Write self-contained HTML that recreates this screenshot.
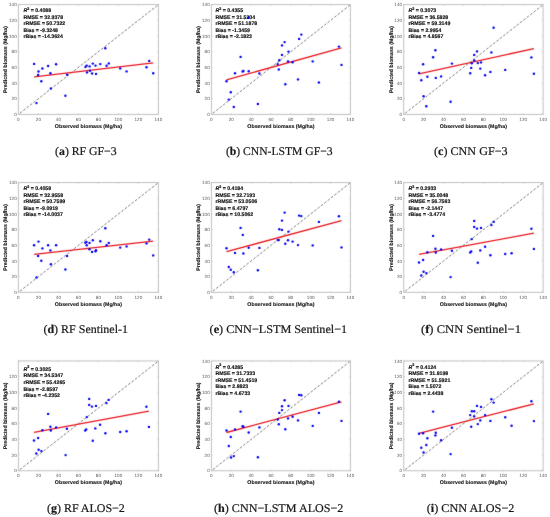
<!DOCTYPE html>
<html><head><meta charset="utf-8"><style>
html,body{margin:0;padding:0;background:#fff;width:550px;height:517px;overflow:hidden}
svg{display:block;will-change:transform;text-rendering:geometricPrecision}
</style></head><body>
<svg width="550" height="517" viewBox="0 0 550 517">
<defs><filter id="bl" x="0" y="0" width="550" height="517" filterUnits="userSpaceOnUse" color-interpolation-filters="sRGB"><feConvolveMatrix order="3" kernelMatrix="1 2 1 2 28 2 1 2 1" edgeMode="duplicate"/></filter></defs>
<defs></defs>
<g filter="url(#bl)">
<rect width="550" height="517" fill="#fff"/>
<line x1="19.9" y1="113.2" x2="157.9" y2="5.1" stroke="#6e6e6e" stroke-width="0.9" stroke-dasharray="2.6,1.7"/>
<rect x="18.4" y="4.6" width="140" height="109.8" fill="none" stroke="#c0c0c0" stroke-width="1"/>
<path d="M18.4 114.4v-1.3M18.4 4.6v1.3M18.4 114.4h1.3M158.4 114.4h-1.3" stroke="#c0c0c0" stroke-width="0.6"/>
<path d="M38.4 114.4v-1.3M38.4 4.6v1.3M18.4 98.71h1.3M158.4 98.71h-1.3" stroke="#c0c0c0" stroke-width="0.6"/>
<path d="M58.4 114.4v-1.3M58.4 4.6v1.3M18.4 83.03h1.3M158.4 83.03h-1.3" stroke="#c0c0c0" stroke-width="0.6"/>
<path d="M78.4 114.4v-1.3M78.4 4.6v1.3M18.4 67.34h1.3M158.4 67.34h-1.3" stroke="#c0c0c0" stroke-width="0.6"/>
<path d="M98.4 114.4v-1.3M98.4 4.6v1.3M18.4 51.66h1.3M158.4 51.66h-1.3" stroke="#c0c0c0" stroke-width="0.6"/>
<path d="M118.4 114.4v-1.3M118.4 4.6v1.3M18.4 35.97h1.3M158.4 35.97h-1.3" stroke="#c0c0c0" stroke-width="0.6"/>
<path d="M138.4 114.4v-1.3M138.4 4.6v1.3M18.4 20.29h1.3M158.4 20.29h-1.3" stroke="#c0c0c0" stroke-width="0.6"/>
<path d="M158.4 114.4v-1.3M158.4 4.6v1.3M18.4 4.6h1.3M158.4 4.6h-1.3" stroke="#c0c0c0" stroke-width="0.6"/>
<line x1="34.1" y1="76.9" x2="153.2" y2="62.9" stroke="#e8161e" stroke-width="1.3"/>
<circle cx="34.1" cy="63.9" r="1.2" fill="#0000f0"/>
<circle cx="38.5" cy="71.5" r="1.2" fill="#0000f0"/>
<circle cx="38.1" cy="74.9" r="1.2" fill="#0000f0"/>
<circle cx="42.4" cy="68.5" r="1.2" fill="#0000f0"/>
<circle cx="36.5" cy="103.1" r="1.2" fill="#0000f0"/>
<circle cx="41.3" cy="81.2" r="1.2" fill="#0000f0"/>
<circle cx="48.1" cy="66" r="1.2" fill="#0000f0"/>
<circle cx="50.4" cy="73.2" r="1.2" fill="#0000f0"/>
<circle cx="50.9" cy="88.5" r="1.2" fill="#0000f0"/>
<circle cx="56.1" cy="64.2" r="1.2" fill="#0000f0"/>
<circle cx="65.4" cy="95.8" r="1.2" fill="#0000f0"/>
<circle cx="67.1" cy="74.7" r="1.2" fill="#0000f0"/>
<circle cx="85.5" cy="66.9" r="1.2" fill="#0000f0"/>
<circle cx="86.7" cy="65.6" r="1.2" fill="#0000f0"/>
<circle cx="89.6" cy="66.4" r="1.2" fill="#0000f0"/>
<circle cx="87" cy="72.4" r="1.2" fill="#0000f0"/>
<circle cx="90" cy="70.7" r="1.2" fill="#0000f0"/>
<circle cx="92.8" cy="63.6" r="1.2" fill="#0000f0"/>
<circle cx="95.5" cy="65.6" r="1.2" fill="#0000f0"/>
<circle cx="92.1" cy="73.5" r="1.2" fill="#0000f0"/>
<circle cx="96" cy="73.9" r="1.2" fill="#0000f0"/>
<circle cx="100.3" cy="64.1" r="1.2" fill="#0000f0"/>
<circle cx="105.3" cy="48.3" r="1.2" fill="#0000f0"/>
<circle cx="106.6" cy="65.7" r="1.2" fill="#0000f0"/>
<circle cx="108.8" cy="63.4" r="1.2" fill="#0000f0"/>
<circle cx="120.2" cy="68.4" r="1.2" fill="#0000f0"/>
<circle cx="126.6" cy="71.4" r="1.2" fill="#0000f0"/>
<circle cx="146.5" cy="67.2" r="1.2" fill="#0000f0"/>
<circle cx="149.2" cy="60.9" r="1.2" fill="#0000f0"/>
<circle cx="153.2" cy="73.2" r="1.2" fill="#0000f0"/>
<line x1="212.9" y1="113.2" x2="349.9" y2="5.1" stroke="#6e6e6e" stroke-width="0.9" stroke-dasharray="2.6,1.7"/>
<rect x="211.4" y="4.6" width="139" height="109.8" fill="none" stroke="#c0c0c0" stroke-width="1"/>
<path d="M211.4 114.4v-1.3M211.4 4.6v1.3M211.4 114.4h1.3M350.4 114.4h-1.3" stroke="#c0c0c0" stroke-width="0.6"/>
<path d="M231.26 114.4v-1.3M231.26 4.6v1.3M211.4 98.71h1.3M350.4 98.71h-1.3" stroke="#c0c0c0" stroke-width="0.6"/>
<path d="M251.11 114.4v-1.3M251.11 4.6v1.3M211.4 83.03h1.3M350.4 83.03h-1.3" stroke="#c0c0c0" stroke-width="0.6"/>
<path d="M270.97 114.4v-1.3M270.97 4.6v1.3M211.4 67.34h1.3M350.4 67.34h-1.3" stroke="#c0c0c0" stroke-width="0.6"/>
<path d="M290.83 114.4v-1.3M290.83 4.6v1.3M211.4 51.66h1.3M350.4 51.66h-1.3" stroke="#c0c0c0" stroke-width="0.6"/>
<path d="M310.69 114.4v-1.3M310.69 4.6v1.3M211.4 35.97h1.3M350.4 35.97h-1.3" stroke="#c0c0c0" stroke-width="0.6"/>
<path d="M330.54 114.4v-1.3M330.54 4.6v1.3M211.4 20.29h1.3M350.4 20.29h-1.3" stroke="#c0c0c0" stroke-width="0.6"/>
<path d="M350.4 114.4v-1.3M350.4 4.6v1.3M211.4 4.6h1.3M350.4 4.6h-1.3" stroke="#c0c0c0" stroke-width="0.6"/>
<line x1="226.5" y1="79.9" x2="341.5" y2="47.9" stroke="#e8161e" stroke-width="1.3"/>
<circle cx="226.5" cy="81.2" r="1.2" fill="#0000f0"/>
<circle cx="230.8" cy="92.3" r="1.2" fill="#0000f0"/>
<circle cx="228.8" cy="99.6" r="1.2" fill="#0000f0"/>
<circle cx="233.8" cy="107" r="1.2" fill="#0000f0"/>
<circle cx="235" cy="73.2" r="1.2" fill="#0000f0"/>
<circle cx="240.6" cy="56.9" r="1.2" fill="#0000f0"/>
<circle cx="242.6" cy="71.5" r="1.2" fill="#0000f0"/>
<circle cx="243.4" cy="71" r="1.2" fill="#0000f0"/>
<circle cx="248.7" cy="71.2" r="1.2" fill="#0000f0"/>
<circle cx="259.4" cy="73.5" r="1.2" fill="#0000f0"/>
<circle cx="257.9" cy="104" r="1.2" fill="#0000f0"/>
<circle cx="277.7" cy="64.1" r="1.2" fill="#0000f0"/>
<circle cx="278.8" cy="69.5" r="1.2" fill="#0000f0"/>
<circle cx="279.3" cy="60.2" r="1.2" fill="#0000f0"/>
<circle cx="282" cy="54.9" r="1.2" fill="#0000f0"/>
<circle cx="282" cy="45.4" r="1.2" fill="#0000f0"/>
<circle cx="284.6" cy="42.1" r="1.2" fill="#0000f0"/>
<circle cx="285.3" cy="84.2" r="1.2" fill="#0000f0"/>
<circle cx="288" cy="61.4" r="1.2" fill="#0000f0"/>
<circle cx="288.5" cy="51.6" r="1.2" fill="#0000f0"/>
<circle cx="292.6" cy="62.2" r="1.2" fill="#0000f0"/>
<circle cx="298" cy="79.4" r="1.2" fill="#0000f0"/>
<circle cx="299.1" cy="38.9" r="1.2" fill="#0000f0"/>
<circle cx="301.3" cy="34.6" r="1.2" fill="#0000f0"/>
<circle cx="312.7" cy="61.4" r="1.2" fill="#0000f0"/>
<circle cx="318.9" cy="82.5" r="1.2" fill="#0000f0"/>
<circle cx="338.9" cy="46.6" r="1.2" fill="#0000f0"/>
<circle cx="341.5" cy="64.9" r="1.2" fill="#0000f0"/>
<line x1="405.2" y1="113.2" x2="542.6" y2="5.1" stroke="#6e6e6e" stroke-width="0.9" stroke-dasharray="2.6,1.7"/>
<rect x="403.7" y="4.6" width="139.4" height="109.8" fill="none" stroke="#c0c0c0" stroke-width="1"/>
<path d="M403.7 114.4v-1.3M403.7 4.6v1.3M403.7 114.4h1.3M543.1 114.4h-1.3" stroke="#c0c0c0" stroke-width="0.6"/>
<path d="M423.61 114.4v-1.3M423.61 4.6v1.3M403.7 98.71h1.3M543.1 98.71h-1.3" stroke="#c0c0c0" stroke-width="0.6"/>
<path d="M443.53 114.4v-1.3M443.53 4.6v1.3M403.7 83.03h1.3M543.1 83.03h-1.3" stroke="#c0c0c0" stroke-width="0.6"/>
<path d="M463.44 114.4v-1.3M463.44 4.6v1.3M403.7 67.34h1.3M543.1 67.34h-1.3" stroke="#c0c0c0" stroke-width="0.6"/>
<path d="M483.36 114.4v-1.3M483.36 4.6v1.3M403.7 51.66h1.3M543.1 51.66h-1.3" stroke="#c0c0c0" stroke-width="0.6"/>
<path d="M503.27 114.4v-1.3M503.27 4.6v1.3M403.7 35.97h1.3M543.1 35.97h-1.3" stroke="#c0c0c0" stroke-width="0.6"/>
<path d="M523.19 114.4v-1.3M523.19 4.6v1.3M403.7 20.29h1.3M543.1 20.29h-1.3" stroke="#c0c0c0" stroke-width="0.6"/>
<path d="M543.1 114.4v-1.3M543.1 4.6v1.3M403.7 4.6h1.3M543.1 4.6h-1.3" stroke="#c0c0c0" stroke-width="0.6"/>
<line x1="419" y1="73.9" x2="533.9" y2="48.6" stroke="#e8161e" stroke-width="1.3"/>
<circle cx="419" cy="72.9" r="1.2" fill="#0000f0"/>
<circle cx="421.3" cy="80.2" r="1.2" fill="#0000f0"/>
<circle cx="423.1" cy="64.2" r="1.2" fill="#0000f0"/>
<circle cx="423.6" cy="96.3" r="1.2" fill="#0000f0"/>
<circle cx="426.3" cy="106.3" r="1.2" fill="#0000f0"/>
<circle cx="427.4" cy="76.7" r="1.2" fill="#0000f0"/>
<circle cx="433.1" cy="57.2" r="1.2" fill="#0000f0"/>
<circle cx="435.4" cy="50.3" r="1.2" fill="#0000f0"/>
<circle cx="435.8" cy="77.9" r="1.2" fill="#0000f0"/>
<circle cx="441.1" cy="76.4" r="1.2" fill="#0000f0"/>
<circle cx="450.6" cy="101.8" r="1.2" fill="#0000f0"/>
<circle cx="451.9" cy="63.6" r="1.2" fill="#0000f0"/>
<circle cx="470.2" cy="73.2" r="1.2" fill="#0000f0"/>
<circle cx="471.2" cy="67.9" r="1.2" fill="#0000f0"/>
<circle cx="471.8" cy="63.2" r="1.2" fill="#0000f0"/>
<circle cx="474.2" cy="54.9" r="1.2" fill="#0000f0"/>
<circle cx="474.2" cy="60.4" r="1.2" fill="#0000f0"/>
<circle cx="477" cy="51.4" r="1.2" fill="#0000f0"/>
<circle cx="477.8" cy="63.1" r="1.2" fill="#0000f0"/>
<circle cx="480.3" cy="68.6" r="1.2" fill="#0000f0"/>
<circle cx="481" cy="62.4" r="1.2" fill="#0000f0"/>
<circle cx="485.1" cy="75.2" r="1.2" fill="#0000f0"/>
<circle cx="490.4" cy="71.9" r="1.2" fill="#0000f0"/>
<circle cx="491.4" cy="52.4" r="1.2" fill="#0000f0"/>
<circle cx="505.2" cy="69.9" r="1.2" fill="#0000f0"/>
<circle cx="531.4" cy="57.4" r="1.2" fill="#0000f0"/>
<circle cx="533.9" cy="73.7" r="1.2" fill="#0000f0"/>
<circle cx="493.6" cy="27.8" r="1.2" fill="#0000f0"/>
<line x1="19.9" y1="291.15" x2="157.9" y2="183.05" stroke="#6e6e6e" stroke-width="0.9" stroke-dasharray="2.6,1.7"/>
<rect x="18.4" y="182.55" width="140" height="109.8" fill="none" stroke="#c0c0c0" stroke-width="1"/>
<path d="M18.4 292.35v-1.3M18.4 182.55v1.3M18.4 292.35h1.3M158.4 292.35h-1.3" stroke="#c0c0c0" stroke-width="0.6"/>
<path d="M38.4 292.35v-1.3M38.4 182.55v1.3M18.4 276.66h1.3M158.4 276.66h-1.3" stroke="#c0c0c0" stroke-width="0.6"/>
<path d="M58.4 292.35v-1.3M58.4 182.55v1.3M18.4 260.98h1.3M158.4 260.98h-1.3" stroke="#c0c0c0" stroke-width="0.6"/>
<path d="M78.4 292.35v-1.3M78.4 182.55v1.3M18.4 245.29h1.3M158.4 245.29h-1.3" stroke="#c0c0c0" stroke-width="0.6"/>
<path d="M98.4 292.35v-1.3M98.4 182.55v1.3M18.4 229.61h1.3M158.4 229.61h-1.3" stroke="#c0c0c0" stroke-width="0.6"/>
<path d="M118.4 292.35v-1.3M118.4 182.55v1.3M18.4 213.92h1.3M158.4 213.92h-1.3" stroke="#c0c0c0" stroke-width="0.6"/>
<path d="M138.4 292.35v-1.3M138.4 182.55v1.3M18.4 198.24h1.3M158.4 198.24h-1.3" stroke="#c0c0c0" stroke-width="0.6"/>
<path d="M158.4 292.35v-1.3M158.4 182.55v1.3M18.4 182.55h1.3M158.4 182.55h-1.3" stroke="#c0c0c0" stroke-width="0.6"/>
<line x1="34.1" y1="254.4" x2="153.2" y2="241.1" stroke="#e8161e" stroke-width="1.3"/>
<circle cx="34.1" cy="245.2" r="1.2" fill="#0000f0"/>
<circle cx="38.5" cy="241.6" r="1.2" fill="#0000f0"/>
<circle cx="38.1" cy="256" r="1.2" fill="#0000f0"/>
<circle cx="42.4" cy="248.4" r="1.2" fill="#0000f0"/>
<circle cx="36.5" cy="277.5" r="1.2" fill="#0000f0"/>
<circle cx="41.3" cy="260.8" r="1.2" fill="#0000f0"/>
<circle cx="48.1" cy="245.2" r="1.2" fill="#0000f0"/>
<circle cx="50.4" cy="250.4" r="1.2" fill="#0000f0"/>
<circle cx="50.9" cy="264.2" r="1.2" fill="#0000f0"/>
<circle cx="56.1" cy="245.2" r="1.2" fill="#0000f0"/>
<circle cx="65.4" cy="269.5" r="1.2" fill="#0000f0"/>
<circle cx="67.1" cy="256" r="1.2" fill="#0000f0"/>
<circle cx="85.3" cy="242.7" r="1.2" fill="#0000f0"/>
<circle cx="86.5" cy="241.9" r="1.2" fill="#0000f0"/>
<circle cx="86.7" cy="245.2" r="1.2" fill="#0000f0"/>
<circle cx="89.5" cy="242.9" r="1.2" fill="#0000f0"/>
<circle cx="89.5" cy="249.2" r="1.2" fill="#0000f0"/>
<circle cx="92.1" cy="251.9" r="1.2" fill="#0000f0"/>
<circle cx="92.8" cy="240.2" r="1.2" fill="#0000f0"/>
<circle cx="95.5" cy="251.2" r="1.2" fill="#0000f0"/>
<circle cx="96" cy="250.2" r="1.2" fill="#0000f0"/>
<circle cx="100.3" cy="241.2" r="1.2" fill="#0000f0"/>
<circle cx="105.3" cy="228.3" r="1.2" fill="#0000f0"/>
<circle cx="106.6" cy="245.2" r="1.2" fill="#0000f0"/>
<circle cx="108.8" cy="242.9" r="1.2" fill="#0000f0"/>
<circle cx="120.2" cy="247.6" r="1.2" fill="#0000f0"/>
<circle cx="126.6" cy="246.4" r="1.2" fill="#0000f0"/>
<circle cx="146.5" cy="243.4" r="1.2" fill="#0000f0"/>
<circle cx="149.2" cy="239.6" r="1.2" fill="#0000f0"/>
<circle cx="153.2" cy="255.4" r="1.2" fill="#0000f0"/>
<line x1="212.9" y1="291.15" x2="349.9" y2="183.05" stroke="#6e6e6e" stroke-width="0.9" stroke-dasharray="2.6,1.7"/>
<rect x="211.4" y="182.55" width="139" height="109.8" fill="none" stroke="#c0c0c0" stroke-width="1"/>
<path d="M211.4 292.35v-1.3M211.4 182.55v1.3M211.4 292.35h1.3M350.4 292.35h-1.3" stroke="#c0c0c0" stroke-width="0.6"/>
<path d="M231.26 292.35v-1.3M231.26 182.55v1.3M211.4 276.66h1.3M350.4 276.66h-1.3" stroke="#c0c0c0" stroke-width="0.6"/>
<path d="M251.11 292.35v-1.3M251.11 182.55v1.3M211.4 260.98h1.3M350.4 260.98h-1.3" stroke="#c0c0c0" stroke-width="0.6"/>
<path d="M270.97 292.35v-1.3M270.97 182.55v1.3M211.4 245.29h1.3M350.4 245.29h-1.3" stroke="#c0c0c0" stroke-width="0.6"/>
<path d="M290.83 292.35v-1.3M290.83 182.55v1.3M211.4 229.61h1.3M350.4 229.61h-1.3" stroke="#c0c0c0" stroke-width="0.6"/>
<path d="M310.69 292.35v-1.3M310.69 182.55v1.3M211.4 213.92h1.3M350.4 213.92h-1.3" stroke="#c0c0c0" stroke-width="0.6"/>
<path d="M330.54 292.35v-1.3M330.54 182.55v1.3M211.4 198.24h1.3M350.4 198.24h-1.3" stroke="#c0c0c0" stroke-width="0.6"/>
<path d="M350.4 292.35v-1.3M350.4 182.55v1.3M211.4 182.55h1.3M350.4 182.55h-1.3" stroke="#c0c0c0" stroke-width="0.6"/>
<line x1="226.5" y1="251.7" x2="341.5" y2="220.6" stroke="#e8161e" stroke-width="1.3"/>
<circle cx="226.5" cy="248.2" r="1.2" fill="#0000f0"/>
<circle cx="228.8" cy="267" r="1.2" fill="#0000f0"/>
<circle cx="230.8" cy="269.7" r="1.2" fill="#0000f0"/>
<circle cx="233.8" cy="272.3" r="1.2" fill="#0000f0"/>
<circle cx="235" cy="252.9" r="1.2" fill="#0000f0"/>
<circle cx="240.6" cy="227.9" r="1.2" fill="#0000f0"/>
<circle cx="242.8" cy="234.9" r="1.2" fill="#0000f0"/>
<circle cx="243.4" cy="253.5" r="1.2" fill="#0000f0"/>
<circle cx="248.7" cy="247.7" r="1.2" fill="#0000f0"/>
<circle cx="259.4" cy="247.9" r="1.2" fill="#0000f0"/>
<circle cx="257.9" cy="270.3" r="1.2" fill="#0000f0"/>
<circle cx="277.7" cy="240.1" r="1.2" fill="#0000f0"/>
<circle cx="278.8" cy="240.1" r="1.2" fill="#0000f0"/>
<circle cx="279.3" cy="229.3" r="1.2" fill="#0000f0"/>
<circle cx="282" cy="229.9" r="1.2" fill="#0000f0"/>
<circle cx="282" cy="220.6" r="1.2" fill="#0000f0"/>
<circle cx="284.6" cy="212.6" r="1.2" fill="#0000f0"/>
<circle cx="285.3" cy="243.7" r="1.2" fill="#0000f0"/>
<circle cx="288" cy="240.2" r="1.2" fill="#0000f0"/>
<circle cx="288.5" cy="231.6" r="1.2" fill="#0000f0"/>
<circle cx="292.6" cy="241.6" r="1.2" fill="#0000f0"/>
<circle cx="298" cy="245.1" r="1.2" fill="#0000f0"/>
<circle cx="299.1" cy="215.6" r="1.2" fill="#0000f0"/>
<circle cx="301.3" cy="216.1" r="1.2" fill="#0000f0"/>
<circle cx="312.7" cy="245.4" r="1.2" fill="#0000f0"/>
<circle cx="318.9" cy="221.9" r="1.2" fill="#0000f0"/>
<circle cx="338.9" cy="216.3" r="1.2" fill="#0000f0"/>
<circle cx="341.5" cy="247.4" r="1.2" fill="#0000f0"/>
<line x1="405.2" y1="291.15" x2="542.6" y2="183.05" stroke="#6e6e6e" stroke-width="0.9" stroke-dasharray="2.6,1.7"/>
<rect x="403.7" y="182.55" width="139.4" height="109.8" fill="none" stroke="#c0c0c0" stroke-width="1"/>
<path d="M403.7 292.35v-1.3M403.7 182.55v1.3M403.7 292.35h1.3M543.1 292.35h-1.3" stroke="#c0c0c0" stroke-width="0.6"/>
<path d="M423.61 292.35v-1.3M423.61 182.55v1.3M403.7 276.66h1.3M543.1 276.66h-1.3" stroke="#c0c0c0" stroke-width="0.6"/>
<path d="M443.53 292.35v-1.3M443.53 182.55v1.3M403.7 260.98h1.3M543.1 260.98h-1.3" stroke="#c0c0c0" stroke-width="0.6"/>
<path d="M463.44 292.35v-1.3M463.44 182.55v1.3M403.7 245.29h1.3M543.1 245.29h-1.3" stroke="#c0c0c0" stroke-width="0.6"/>
<path d="M483.36 292.35v-1.3M483.36 182.55v1.3M403.7 229.61h1.3M543.1 229.61h-1.3" stroke="#c0c0c0" stroke-width="0.6"/>
<path d="M503.27 292.35v-1.3M503.27 182.55v1.3M403.7 213.92h1.3M543.1 213.92h-1.3" stroke="#c0c0c0" stroke-width="0.6"/>
<path d="M523.19 292.35v-1.3M523.19 182.55v1.3M403.7 198.24h1.3M543.1 198.24h-1.3" stroke="#c0c0c0" stroke-width="0.6"/>
<path d="M543.1 292.35v-1.3M543.1 182.55v1.3M403.7 182.55h1.3M543.1 182.55h-1.3" stroke="#c0c0c0" stroke-width="0.6"/>
<line x1="419" y1="254.4" x2="533.9" y2="233.2" stroke="#e8161e" stroke-width="1.3"/>
<circle cx="419" cy="262.5" r="1.2" fill="#0000f0"/>
<circle cx="421.3" cy="275.5" r="1.2" fill="#0000f0"/>
<circle cx="423.1" cy="260" r="1.2" fill="#0000f0"/>
<circle cx="423.6" cy="271.7" r="1.2" fill="#0000f0"/>
<circle cx="426.4" cy="273.1" r="1.2" fill="#0000f0"/>
<circle cx="427.4" cy="252.2" r="1.2" fill="#0000f0"/>
<circle cx="433.1" cy="235.9" r="1.2" fill="#0000f0"/>
<circle cx="435.4" cy="248.7" r="1.2" fill="#0000f0"/>
<circle cx="435.8" cy="252.5" r="1.2" fill="#0000f0"/>
<circle cx="441.1" cy="249.4" r="1.2" fill="#0000f0"/>
<circle cx="450.6" cy="277.1" r="1.2" fill="#0000f0"/>
<circle cx="451.9" cy="250.7" r="1.2" fill="#0000f0"/>
<circle cx="470.2" cy="252.5" r="1.2" fill="#0000f0"/>
<circle cx="471.2" cy="251.4" r="1.2" fill="#0000f0"/>
<circle cx="471.8" cy="239.1" r="1.2" fill="#0000f0"/>
<circle cx="474.2" cy="220.9" r="1.2" fill="#0000f0"/>
<circle cx="474.2" cy="226.9" r="1.2" fill="#0000f0"/>
<circle cx="477" cy="228.6" r="1.2" fill="#0000f0"/>
<circle cx="477.8" cy="262.7" r="1.2" fill="#0000f0"/>
<circle cx="480.3" cy="250.4" r="1.2" fill="#0000f0"/>
<circle cx="481" cy="227.9" r="1.2" fill="#0000f0"/>
<circle cx="485.1" cy="246.7" r="1.2" fill="#0000f0"/>
<circle cx="490.4" cy="255.2" r="1.2" fill="#0000f0"/>
<circle cx="491.4" cy="225.1" r="1.2" fill="#0000f0"/>
<circle cx="493.6" cy="221.9" r="1.2" fill="#0000f0"/>
<circle cx="505.2" cy="254" r="1.2" fill="#0000f0"/>
<circle cx="511.6" cy="253.2" r="1.2" fill="#0000f0"/>
<circle cx="531.4" cy="228.8" r="1.2" fill="#0000f0"/>
<circle cx="533.9" cy="248.9" r="1.2" fill="#0000f0"/>
<line x1="19.9" y1="469.55" x2="157.9" y2="361.45" stroke="#6e6e6e" stroke-width="0.9" stroke-dasharray="2.6,1.7"/>
<rect x="18.4" y="360.95" width="140" height="109.8" fill="none" stroke="#c0c0c0" stroke-width="1"/>
<path d="M18.4 470.75v-1.3M18.4 360.95v1.3M18.4 470.75h1.3M158.4 470.75h-1.3" stroke="#c0c0c0" stroke-width="0.6"/>
<path d="M38.4 470.75v-1.3M38.4 360.95v1.3M18.4 455.06h1.3M158.4 455.06h-1.3" stroke="#c0c0c0" stroke-width="0.6"/>
<path d="M58.4 470.75v-1.3M58.4 360.95v1.3M18.4 439.38h1.3M158.4 439.38h-1.3" stroke="#c0c0c0" stroke-width="0.6"/>
<path d="M78.4 470.75v-1.3M78.4 360.95v1.3M18.4 423.69h1.3M158.4 423.69h-1.3" stroke="#c0c0c0" stroke-width="0.6"/>
<path d="M98.4 470.75v-1.3M98.4 360.95v1.3M18.4 408.01h1.3M158.4 408.01h-1.3" stroke="#c0c0c0" stroke-width="0.6"/>
<path d="M118.4 470.75v-1.3M118.4 360.95v1.3M18.4 392.32h1.3M158.4 392.32h-1.3" stroke="#c0c0c0" stroke-width="0.6"/>
<path d="M138.4 470.75v-1.3M138.4 360.95v1.3M18.4 376.64h1.3M158.4 376.64h-1.3" stroke="#c0c0c0" stroke-width="0.6"/>
<path d="M158.4 470.75v-1.3M158.4 360.95v1.3M18.4 360.95h1.3M158.4 360.95h-1.3" stroke="#c0c0c0" stroke-width="0.6"/>
<line x1="34" y1="432.4" x2="148.9" y2="411.2" stroke="#e8161e" stroke-width="1.3"/>
<circle cx="34" cy="440.5" r="1.2" fill="#0000f0"/>
<circle cx="36.3" cy="453.5" r="1.2" fill="#0000f0"/>
<circle cx="38.1" cy="438" r="1.2" fill="#0000f0"/>
<circle cx="38.6" cy="449.7" r="1.2" fill="#0000f0"/>
<circle cx="41.4" cy="451.1" r="1.2" fill="#0000f0"/>
<circle cx="42.4" cy="430.2" r="1.2" fill="#0000f0"/>
<circle cx="48.1" cy="413.9" r="1.2" fill="#0000f0"/>
<circle cx="50.4" cy="426.7" r="1.2" fill="#0000f0"/>
<circle cx="50.8" cy="430.5" r="1.2" fill="#0000f0"/>
<circle cx="56.1" cy="427.4" r="1.2" fill="#0000f0"/>
<circle cx="65.6" cy="455.1" r="1.2" fill="#0000f0"/>
<circle cx="66.9" cy="428.7" r="1.2" fill="#0000f0"/>
<circle cx="85.2" cy="430.5" r="1.2" fill="#0000f0"/>
<circle cx="86.2" cy="429.4" r="1.2" fill="#0000f0"/>
<circle cx="86.8" cy="417.1" r="1.2" fill="#0000f0"/>
<circle cx="89.2" cy="398.9" r="1.2" fill="#0000f0"/>
<circle cx="89.2" cy="404.9" r="1.2" fill="#0000f0"/>
<circle cx="92" cy="406.6" r="1.2" fill="#0000f0"/>
<circle cx="92.8" cy="440.7" r="1.2" fill="#0000f0"/>
<circle cx="95.3" cy="428.4" r="1.2" fill="#0000f0"/>
<circle cx="96" cy="405.9" r="1.2" fill="#0000f0"/>
<circle cx="100.1" cy="424.7" r="1.2" fill="#0000f0"/>
<circle cx="105.4" cy="433.2" r="1.2" fill="#0000f0"/>
<circle cx="106.4" cy="403.1" r="1.2" fill="#0000f0"/>
<circle cx="108.6" cy="399.9" r="1.2" fill="#0000f0"/>
<circle cx="120.2" cy="432" r="1.2" fill="#0000f0"/>
<circle cx="126.6" cy="431.2" r="1.2" fill="#0000f0"/>
<circle cx="146.4" cy="406.8" r="1.2" fill="#0000f0"/>
<circle cx="148.9" cy="426.9" r="1.2" fill="#0000f0"/>
<line x1="212.9" y1="469.55" x2="349.9" y2="361.45" stroke="#6e6e6e" stroke-width="0.9" stroke-dasharray="2.6,1.7"/>
<rect x="211.4" y="360.95" width="139" height="109.8" fill="none" stroke="#c0c0c0" stroke-width="1"/>
<path d="M211.4 470.75v-1.3M211.4 360.95v1.3M211.4 470.75h1.3M350.4 470.75h-1.3" stroke="#c0c0c0" stroke-width="0.6"/>
<path d="M231.26 470.75v-1.3M231.26 360.95v1.3M211.4 455.06h1.3M350.4 455.06h-1.3" stroke="#c0c0c0" stroke-width="0.6"/>
<path d="M251.11 470.75v-1.3M251.11 360.95v1.3M211.4 439.38h1.3M350.4 439.38h-1.3" stroke="#c0c0c0" stroke-width="0.6"/>
<path d="M270.97 470.75v-1.3M270.97 360.95v1.3M211.4 423.69h1.3M350.4 423.69h-1.3" stroke="#c0c0c0" stroke-width="0.6"/>
<path d="M290.83 470.75v-1.3M290.83 360.95v1.3M211.4 408.01h1.3M350.4 408.01h-1.3" stroke="#c0c0c0" stroke-width="0.6"/>
<path d="M310.69 470.75v-1.3M310.69 360.95v1.3M211.4 392.32h1.3M350.4 392.32h-1.3" stroke="#c0c0c0" stroke-width="0.6"/>
<path d="M330.54 470.75v-1.3M330.54 360.95v1.3M211.4 376.64h1.3M350.4 376.64h-1.3" stroke="#c0c0c0" stroke-width="0.6"/>
<path d="M350.4 470.75v-1.3M350.4 360.95v1.3M211.4 360.95h1.3M350.4 360.95h-1.3" stroke="#c0c0c0" stroke-width="0.6"/>
<line x1="226.5" y1="432.5" x2="341.5" y2="401.8" stroke="#e8161e" stroke-width="1.3"/>
<circle cx="226.5" cy="430.5" r="1.2" fill="#0000f0"/>
<circle cx="230.8" cy="437" r="1.2" fill="#0000f0"/>
<circle cx="228.8" cy="446" r="1.2" fill="#0000f0"/>
<circle cx="231" cy="457.5" r="1.2" fill="#0000f0"/>
<circle cx="233.8" cy="456.1" r="1.2" fill="#0000f0"/>
<circle cx="235" cy="429.5" r="1.2" fill="#0000f0"/>
<circle cx="240.6" cy="411.6" r="1.2" fill="#0000f0"/>
<circle cx="242.6" cy="426.2" r="1.2" fill="#0000f0"/>
<circle cx="243.4" cy="426.7" r="1.2" fill="#0000f0"/>
<circle cx="248.7" cy="432.5" r="1.2" fill="#0000f0"/>
<circle cx="259.4" cy="427.4" r="1.2" fill="#0000f0"/>
<circle cx="257.9" cy="457.3" r="1.2" fill="#0000f0"/>
<circle cx="277.7" cy="419.6" r="1.2" fill="#0000f0"/>
<circle cx="278.8" cy="424.2" r="1.2" fill="#0000f0"/>
<circle cx="279.3" cy="412.9" r="1.2" fill="#0000f0"/>
<circle cx="282" cy="410.1" r="1.2" fill="#0000f0"/>
<circle cx="282" cy="406.3" r="1.2" fill="#0000f0"/>
<circle cx="284.6" cy="400.3" r="1.2" fill="#0000f0"/>
<circle cx="285.3" cy="429.2" r="1.2" fill="#0000f0"/>
<circle cx="288" cy="418.4" r="1.2" fill="#0000f0"/>
<circle cx="288.5" cy="405.9" r="1.2" fill="#0000f0"/>
<circle cx="292.6" cy="416.7" r="1.2" fill="#0000f0"/>
<circle cx="298" cy="420.4" r="1.2" fill="#0000f0"/>
<circle cx="299.1" cy="394.9" r="1.2" fill="#0000f0"/>
<circle cx="301.3" cy="395.3" r="1.2" fill="#0000f0"/>
<circle cx="312.7" cy="425.9" r="1.2" fill="#0000f0"/>
<circle cx="318.9" cy="412.9" r="1.2" fill="#0000f0"/>
<circle cx="338.9" cy="401.8" r="1.2" fill="#0000f0"/>
<circle cx="341.5" cy="420.9" r="1.2" fill="#0000f0"/>
<line x1="405.2" y1="469.55" x2="542.6" y2="361.45" stroke="#6e6e6e" stroke-width="0.9" stroke-dasharray="2.6,1.7"/>
<rect x="403.7" y="360.95" width="139.4" height="109.8" fill="none" stroke="#c0c0c0" stroke-width="1"/>
<path d="M403.7 470.75v-1.3M403.7 360.95v1.3M403.7 470.75h1.3M543.1 470.75h-1.3" stroke="#c0c0c0" stroke-width="0.6"/>
<path d="M423.61 470.75v-1.3M423.61 360.95v1.3M403.7 455.06h1.3M543.1 455.06h-1.3" stroke="#c0c0c0" stroke-width="0.6"/>
<path d="M443.53 470.75v-1.3M443.53 360.95v1.3M403.7 439.38h1.3M543.1 439.38h-1.3" stroke="#c0c0c0" stroke-width="0.6"/>
<path d="M463.44 470.75v-1.3M463.44 360.95v1.3M403.7 423.69h1.3M543.1 423.69h-1.3" stroke="#c0c0c0" stroke-width="0.6"/>
<path d="M483.36 470.75v-1.3M483.36 360.95v1.3M403.7 408.01h1.3M543.1 408.01h-1.3" stroke="#c0c0c0" stroke-width="0.6"/>
<path d="M503.27 470.75v-1.3M503.27 360.95v1.3M403.7 392.32h1.3M543.1 392.32h-1.3" stroke="#c0c0c0" stroke-width="0.6"/>
<path d="M523.19 470.75v-1.3M523.19 360.95v1.3M403.7 376.64h1.3M543.1 376.64h-1.3" stroke="#c0c0c0" stroke-width="0.6"/>
<path d="M543.1 470.75v-1.3M543.1 360.95v1.3M403.7 360.95h1.3M543.1 360.95h-1.3" stroke="#c0c0c0" stroke-width="0.6"/>
<line x1="419" y1="433.4" x2="533.9" y2="403.8" stroke="#e8161e" stroke-width="1.3"/>
<circle cx="419" cy="433.7" r="1.2" fill="#0000f0"/>
<circle cx="421.3" cy="447.7" r="1.2" fill="#0000f0"/>
<circle cx="423.1" cy="433.2" r="1.2" fill="#0000f0"/>
<circle cx="423.6" cy="452.5" r="1.2" fill="#0000f0"/>
<circle cx="426.3" cy="445" r="1.2" fill="#0000f0"/>
<circle cx="427.4" cy="438.3" r="1.2" fill="#0000f0"/>
<circle cx="433.1" cy="411.6" r="1.2" fill="#0000f0"/>
<circle cx="435.4" cy="435.4" r="1.2" fill="#0000f0"/>
<circle cx="435.8" cy="432.7" r="1.2" fill="#0000f0"/>
<circle cx="441.1" cy="440.3" r="1.2" fill="#0000f0"/>
<circle cx="450.6" cy="454.1" r="1.2" fill="#0000f0"/>
<circle cx="451.9" cy="427.7" r="1.2" fill="#0000f0"/>
<circle cx="470.2" cy="415.1" r="1.2" fill="#0000f0"/>
<circle cx="471.2" cy="426.7" r="1.2" fill="#0000f0"/>
<circle cx="471.8" cy="411.2" r="1.2" fill="#0000f0"/>
<circle cx="474.2" cy="411.2" r="1.2" fill="#0000f0"/>
<circle cx="474.2" cy="416.4" r="1.2" fill="#0000f0"/>
<circle cx="477" cy="405.9" r="1.2" fill="#0000f0"/>
<circle cx="477.8" cy="424.1" r="1.2" fill="#0000f0"/>
<circle cx="480.3" cy="420.4" r="1.2" fill="#0000f0"/>
<circle cx="481" cy="406.9" r="1.2" fill="#0000f0"/>
<circle cx="485.1" cy="415.1" r="1.2" fill="#0000f0"/>
<circle cx="490.4" cy="420.9" r="1.2" fill="#0000f0"/>
<circle cx="491.4" cy="399.3" r="1.2" fill="#0000f0"/>
<circle cx="493.6" cy="402.6" r="1.2" fill="#0000f0"/>
<circle cx="505.2" cy="417.2" r="1.2" fill="#0000f0"/>
<circle cx="511.6" cy="425.7" r="1.2" fill="#0000f0"/>
<circle cx="531.4" cy="401.3" r="1.2" fill="#0000f0"/>
<circle cx="533.9" cy="421.1" r="1.2" fill="#0000f0"/>
</g>
<g><text transform="translate(18.4,120.65) translate(-1.28,0) scale(0.1,0.1)" font-family="Liberation Sans" font-weight="normal" font-size="46" fill="#606060" textLength="25.58" lengthAdjust="spacingAndGlyphs">0</text>
<text transform="translate(16.7,116) translate(-2.56,0) scale(0.1,0.1)" font-family="Liberation Sans" font-weight="normal" font-size="46" fill="#606060" textLength="25.58" lengthAdjust="spacingAndGlyphs">0</text>
<text transform="translate(38.4,120.65) translate(-2.56,0) scale(0.1,0.1)" font-family="Liberation Sans" font-weight="normal" font-size="46" fill="#606060" textLength="51.17" lengthAdjust="spacingAndGlyphs">20</text>
<text transform="translate(16.7,100.31) translate(-5.12,0) scale(0.1,0.1)" font-family="Liberation Sans" font-weight="normal" font-size="46" fill="#606060" textLength="51.17" lengthAdjust="spacingAndGlyphs">20</text>
<text transform="translate(58.4,120.65) translate(-2.56,0) scale(0.1,0.1)" font-family="Liberation Sans" font-weight="normal" font-size="46" fill="#606060" textLength="51.17" lengthAdjust="spacingAndGlyphs">40</text>
<text transform="translate(16.7,84.63) translate(-5.12,0) scale(0.1,0.1)" font-family="Liberation Sans" font-weight="normal" font-size="46" fill="#606060" textLength="51.17" lengthAdjust="spacingAndGlyphs">40</text>
<text transform="translate(78.4,120.65) translate(-2.56,0) scale(0.1,0.1)" font-family="Liberation Sans" font-weight="normal" font-size="46" fill="#606060" textLength="51.17" lengthAdjust="spacingAndGlyphs">60</text>
<text transform="translate(16.7,68.94) translate(-5.12,0) scale(0.1,0.1)" font-family="Liberation Sans" font-weight="normal" font-size="46" fill="#606060" textLength="51.17" lengthAdjust="spacingAndGlyphs">60</text>
<text transform="translate(98.4,120.65) translate(-2.56,0) scale(0.1,0.1)" font-family="Liberation Sans" font-weight="normal" font-size="46" fill="#606060" textLength="51.17" lengthAdjust="spacingAndGlyphs">80</text>
<text transform="translate(16.7,53.26) translate(-5.12,0) scale(0.1,0.1)" font-family="Liberation Sans" font-weight="normal" font-size="46" fill="#606060" textLength="51.17" lengthAdjust="spacingAndGlyphs">80</text>
<text transform="translate(118.4,120.65) translate(-3.84,0) scale(0.1,0.1)" font-family="Liberation Sans" font-weight="normal" font-size="46" fill="#606060" textLength="76.75" lengthAdjust="spacingAndGlyphs">100</text>
<text transform="translate(16.7,37.57) translate(-7.67,0) scale(0.1,0.1)" font-family="Liberation Sans" font-weight="normal" font-size="46" fill="#606060" textLength="76.75" lengthAdjust="spacingAndGlyphs">100</text>
<text transform="translate(138.4,120.65) translate(-3.84,0) scale(0.1,0.1)" font-family="Liberation Sans" font-weight="normal" font-size="46" fill="#606060" textLength="76.75" lengthAdjust="spacingAndGlyphs">120</text>
<text transform="translate(16.7,21.89) translate(-7.67,0) scale(0.1,0.1)" font-family="Liberation Sans" font-weight="normal" font-size="46" fill="#606060" textLength="76.75" lengthAdjust="spacingAndGlyphs">120</text>
<text transform="translate(158.4,120.65) translate(-3.84,0) scale(0.1,0.1)" font-family="Liberation Sans" font-weight="normal" font-size="46" fill="#606060" textLength="76.75" lengthAdjust="spacingAndGlyphs">140</text>
<text transform="translate(16.7,6.2) translate(-7.67,0) scale(0.1,0.1)" font-family="Liberation Sans" font-weight="normal" font-size="46" fill="#606060" textLength="76.75" lengthAdjust="spacingAndGlyphs">140</text>
<text transform="translate(88.4,127.8) translate(-33.55,0) scale(0.1,0.1)" font-family="Liberation Sans" font-weight="bold" font-size="52.5" fill="#1a1a1a" stroke="#1a1a1a" stroke-width="1.2" textLength="670.99" lengthAdjust="spacingAndGlyphs">Observed biomass (Mg/ha)</text>
<text transform="translate(7.3,59.5) rotate(-90) translate(-33.4,0) scale(0.1,0.1)" font-family="Liberation Sans" font-weight="bold" font-size="52.5" fill="#1a1a1a" stroke="#1a1a1a" stroke-width="1.2" textLength="668.04" lengthAdjust="spacingAndGlyphs">Predicted biomass (Mg/ha)</text>
<text transform="translate(23.4,12.4) scale(0.1,0.1)" font-family="Liberation Sans" font-weight="bold" font-style="italic" font-size="52" fill="#111" stroke="#111" stroke-width="1.6" textLength="276.68" lengthAdjust="spacingAndGlyphs">R<tspan font-style="normal" font-size="37.44" dy="-25">2</tspan><tspan font-style="normal" dy="25"> = 0.4088</tspan></text>
<text transform="translate(23.4,18.92) scale(0.1,0.1)" font-family="Liberation Sans" font-weight="bold" font-size="52" fill="#111" stroke="#111" stroke-width="1.6" textLength="397.46" lengthAdjust="spacingAndGlyphs">RMSE = 32.9378</text>
<text transform="translate(23.4,25.44) scale(0.1,0.1)" font-family="Liberation Sans" font-weight="bold" font-size="52" fill="#111" stroke="#111" stroke-width="1.6" textLength="417.7" lengthAdjust="spacingAndGlyphs">rRMSE = 50.7322</text>
<text transform="translate(23.4,31.96) scale(0.1,0.1)" font-family="Liberation Sans" font-weight="bold" font-size="52" fill="#111" stroke="#111" stroke-width="1.6" textLength="345.46" lengthAdjust="spacingAndGlyphs">Bias = -9.3248</text>
<text transform="translate(23.4,38.48) scale(0.1,0.1)" font-family="Liberation Sans" font-weight="bold" font-size="52" fill="#111" stroke="#111" stroke-width="1.6" textLength="394.62" lengthAdjust="spacingAndGlyphs">rBias = -14.3624</text>
<text transform="translate(55.1,155.4) scale(0.0996257,0.1)" font-family="Liberation Serif" font-weight="normal" font-size="118" fill="#1a1a1a" stroke="#1a1a1a" stroke-width="2" textLength="617.31" lengthAdjust="spacingAndGlyphs">(<tspan font-weight="bold">a</tspan>) RF GF−3</text>
<text transform="translate(211.4,120.65) translate(-1.28,0) scale(0.1,0.1)" font-family="Liberation Sans" font-weight="normal" font-size="46" fill="#606060" textLength="25.58" lengthAdjust="spacingAndGlyphs">0</text>
<text transform="translate(209.7,116) translate(-2.56,0) scale(0.1,0.1)" font-family="Liberation Sans" font-weight="normal" font-size="46" fill="#606060" textLength="25.58" lengthAdjust="spacingAndGlyphs">0</text>
<text transform="translate(231.26,120.65) translate(-2.56,0) scale(0.1,0.1)" font-family="Liberation Sans" font-weight="normal" font-size="46" fill="#606060" textLength="51.17" lengthAdjust="spacingAndGlyphs">20</text>
<text transform="translate(209.7,100.31) translate(-5.12,0) scale(0.1,0.1)" font-family="Liberation Sans" font-weight="normal" font-size="46" fill="#606060" textLength="51.17" lengthAdjust="spacingAndGlyphs">20</text>
<text transform="translate(251.11,120.65) translate(-2.56,0) scale(0.1,0.1)" font-family="Liberation Sans" font-weight="normal" font-size="46" fill="#606060" textLength="51.17" lengthAdjust="spacingAndGlyphs">40</text>
<text transform="translate(209.7,84.63) translate(-5.12,0) scale(0.1,0.1)" font-family="Liberation Sans" font-weight="normal" font-size="46" fill="#606060" textLength="51.17" lengthAdjust="spacingAndGlyphs">40</text>
<text transform="translate(270.97,120.65) translate(-2.56,0) scale(0.1,0.1)" font-family="Liberation Sans" font-weight="normal" font-size="46" fill="#606060" textLength="51.17" lengthAdjust="spacingAndGlyphs">60</text>
<text transform="translate(209.7,68.94) translate(-5.12,0) scale(0.1,0.1)" font-family="Liberation Sans" font-weight="normal" font-size="46" fill="#606060" textLength="51.17" lengthAdjust="spacingAndGlyphs">60</text>
<text transform="translate(290.83,120.65) translate(-2.56,0) scale(0.1,0.1)" font-family="Liberation Sans" font-weight="normal" font-size="46" fill="#606060" textLength="51.17" lengthAdjust="spacingAndGlyphs">80</text>
<text transform="translate(209.7,53.26) translate(-5.12,0) scale(0.1,0.1)" font-family="Liberation Sans" font-weight="normal" font-size="46" fill="#606060" textLength="51.17" lengthAdjust="spacingAndGlyphs">80</text>
<text transform="translate(310.69,120.65) translate(-3.84,0) scale(0.1,0.1)" font-family="Liberation Sans" font-weight="normal" font-size="46" fill="#606060" textLength="76.75" lengthAdjust="spacingAndGlyphs">100</text>
<text transform="translate(209.7,37.57) translate(-7.67,0) scale(0.1,0.1)" font-family="Liberation Sans" font-weight="normal" font-size="46" fill="#606060" textLength="76.75" lengthAdjust="spacingAndGlyphs">100</text>
<text transform="translate(330.54,120.65) translate(-3.84,0) scale(0.1,0.1)" font-family="Liberation Sans" font-weight="normal" font-size="46" fill="#606060" textLength="76.75" lengthAdjust="spacingAndGlyphs">120</text>
<text transform="translate(209.7,21.89) translate(-7.67,0) scale(0.1,0.1)" font-family="Liberation Sans" font-weight="normal" font-size="46" fill="#606060" textLength="76.75" lengthAdjust="spacingAndGlyphs">120</text>
<text transform="translate(350.4,120.65) translate(-3.84,0) scale(0.1,0.1)" font-family="Liberation Sans" font-weight="normal" font-size="46" fill="#606060" textLength="76.75" lengthAdjust="spacingAndGlyphs">140</text>
<text transform="translate(209.7,6.2) translate(-7.67,0) scale(0.1,0.1)" font-family="Liberation Sans" font-weight="normal" font-size="46" fill="#606060" textLength="76.75" lengthAdjust="spacingAndGlyphs">140</text>
<text transform="translate(280.9,127.8) translate(-33.55,0) scale(0.1,0.1)" font-family="Liberation Sans" font-weight="bold" font-size="52.5" fill="#1a1a1a" stroke="#1a1a1a" stroke-width="1.2" textLength="670.99" lengthAdjust="spacingAndGlyphs">Observed biomass (Mg/ha)</text>
<text transform="translate(200.3,59.5) rotate(-90) translate(-33.4,0) scale(0.1,0.1)" font-family="Liberation Sans" font-weight="bold" font-size="52.5" fill="#1a1a1a" stroke="#1a1a1a" stroke-width="1.2" textLength="668.04" lengthAdjust="spacingAndGlyphs">Predicted biomass (Mg/ha)</text>
<text transform="translate(215.4,12.4) scale(0.1,0.1)" font-family="Liberation Sans" font-weight="bold" font-style="italic" font-size="52" fill="#111" stroke="#111" stroke-width="1.6" textLength="276.68" lengthAdjust="spacingAndGlyphs">R<tspan font-style="normal" font-size="37.44" dy="-25">2</tspan><tspan font-style="normal" dy="25"> = 0.4355</tspan></text>
<text transform="translate(215.4,18.92) scale(0.1,0.1)" font-family="Liberation Sans" font-weight="bold" font-size="52" fill="#111" stroke="#111" stroke-width="1.6" textLength="397.46" lengthAdjust="spacingAndGlyphs">RMSE = 31.5204</text>
<text transform="translate(215.4,25.44) scale(0.1,0.1)" font-family="Liberation Sans" font-weight="bold" font-size="52" fill="#111" stroke="#111" stroke-width="1.6" textLength="417.7" lengthAdjust="spacingAndGlyphs">rRMSE = 51.1878</text>
<text transform="translate(215.4,31.96) scale(0.1,0.1)" font-family="Liberation Sans" font-weight="bold" font-size="52" fill="#111" stroke="#111" stroke-width="1.6" textLength="345.46" lengthAdjust="spacingAndGlyphs">Bias = -1.3459</text>
<text transform="translate(215.4,38.48) scale(0.1,0.1)" font-family="Liberation Sans" font-weight="bold" font-size="52" fill="#111" stroke="#111" stroke-width="1.6" textLength="365.7" lengthAdjust="spacingAndGlyphs">rBias = -2.1823</text>
<circle cx="248.5" cy="17.7" r="1.2" fill="#0000f0"/>
<text transform="translate(225.9,155.4) scale(0.0985461,0.1)" font-family="Liberation Serif" font-weight="normal" font-size="118" fill="#1a1a1a" stroke="#1a1a1a" stroke-width="2" textLength="1082.74" lengthAdjust="spacingAndGlyphs">(<tspan font-weight="bold">b</tspan>) CNN-LSTM GF−3</text>
<text transform="translate(403.7,120.65) translate(-1.28,0) scale(0.1,0.1)" font-family="Liberation Sans" font-weight="normal" font-size="46" fill="#606060" textLength="25.58" lengthAdjust="spacingAndGlyphs">0</text>
<text transform="translate(402,116) translate(-2.56,0) scale(0.1,0.1)" font-family="Liberation Sans" font-weight="normal" font-size="46" fill="#606060" textLength="25.58" lengthAdjust="spacingAndGlyphs">0</text>
<text transform="translate(423.61,120.65) translate(-2.56,0) scale(0.1,0.1)" font-family="Liberation Sans" font-weight="normal" font-size="46" fill="#606060" textLength="51.17" lengthAdjust="spacingAndGlyphs">20</text>
<text transform="translate(402,100.31) translate(-5.12,0) scale(0.1,0.1)" font-family="Liberation Sans" font-weight="normal" font-size="46" fill="#606060" textLength="51.17" lengthAdjust="spacingAndGlyphs">20</text>
<text transform="translate(443.53,120.65) translate(-2.56,0) scale(0.1,0.1)" font-family="Liberation Sans" font-weight="normal" font-size="46" fill="#606060" textLength="51.17" lengthAdjust="spacingAndGlyphs">40</text>
<text transform="translate(402,84.63) translate(-5.12,0) scale(0.1,0.1)" font-family="Liberation Sans" font-weight="normal" font-size="46" fill="#606060" textLength="51.17" lengthAdjust="spacingAndGlyphs">40</text>
<text transform="translate(463.44,120.65) translate(-2.56,0) scale(0.1,0.1)" font-family="Liberation Sans" font-weight="normal" font-size="46" fill="#606060" textLength="51.17" lengthAdjust="spacingAndGlyphs">60</text>
<text transform="translate(402,68.94) translate(-5.12,0) scale(0.1,0.1)" font-family="Liberation Sans" font-weight="normal" font-size="46" fill="#606060" textLength="51.17" lengthAdjust="spacingAndGlyphs">60</text>
<text transform="translate(483.36,120.65) translate(-2.56,0) scale(0.1,0.1)" font-family="Liberation Sans" font-weight="normal" font-size="46" fill="#606060" textLength="51.17" lengthAdjust="spacingAndGlyphs">80</text>
<text transform="translate(402,53.26) translate(-5.12,0) scale(0.1,0.1)" font-family="Liberation Sans" font-weight="normal" font-size="46" fill="#606060" textLength="51.17" lengthAdjust="spacingAndGlyphs">80</text>
<text transform="translate(503.27,120.65) translate(-3.84,0) scale(0.1,0.1)" font-family="Liberation Sans" font-weight="normal" font-size="46" fill="#606060" textLength="76.75" lengthAdjust="spacingAndGlyphs">100</text>
<text transform="translate(402,37.57) translate(-7.67,0) scale(0.1,0.1)" font-family="Liberation Sans" font-weight="normal" font-size="46" fill="#606060" textLength="76.75" lengthAdjust="spacingAndGlyphs">100</text>
<text transform="translate(523.19,120.65) translate(-3.84,0) scale(0.1,0.1)" font-family="Liberation Sans" font-weight="normal" font-size="46" fill="#606060" textLength="76.75" lengthAdjust="spacingAndGlyphs">120</text>
<text transform="translate(402,21.89) translate(-7.67,0) scale(0.1,0.1)" font-family="Liberation Sans" font-weight="normal" font-size="46" fill="#606060" textLength="76.75" lengthAdjust="spacingAndGlyphs">120</text>
<text transform="translate(543.1,120.65) translate(-3.84,0) scale(0.1,0.1)" font-family="Liberation Sans" font-weight="normal" font-size="46" fill="#606060" textLength="76.75" lengthAdjust="spacingAndGlyphs">140</text>
<text transform="translate(402,6.2) translate(-7.67,0) scale(0.1,0.1)" font-family="Liberation Sans" font-weight="normal" font-size="46" fill="#606060" textLength="76.75" lengthAdjust="spacingAndGlyphs">140</text>
<text transform="translate(473.4,127.8) translate(-33.55,0) scale(0.1,0.1)" font-family="Liberation Sans" font-weight="bold" font-size="52.5" fill="#1a1a1a" stroke="#1a1a1a" stroke-width="1.2" textLength="670.99" lengthAdjust="spacingAndGlyphs">Observed biomass (Mg/ha)</text>
<text transform="translate(392.6,59.5) rotate(-90) translate(-33.4,0) scale(0.1,0.1)" font-family="Liberation Sans" font-weight="bold" font-size="52.5" fill="#1a1a1a" stroke="#1a1a1a" stroke-width="1.2" textLength="668.04" lengthAdjust="spacingAndGlyphs">Predicted biomass (Mg/ha)</text>
<text transform="translate(408.5,12.4) scale(0.1,0.1)" font-family="Liberation Sans" font-weight="bold" font-style="italic" font-size="52" fill="#111" stroke="#111" stroke-width="1.6" textLength="276.68" lengthAdjust="spacingAndGlyphs">R<tspan font-style="normal" font-size="37.44" dy="-25">2</tspan><tspan font-style="normal" dy="25"> = 0.3073</tspan></text>
<text transform="translate(408.5,18.92) scale(0.1,0.1)" font-family="Liberation Sans" font-weight="bold" font-size="52" fill="#111" stroke="#111" stroke-width="1.6" textLength="397.46" lengthAdjust="spacingAndGlyphs">RMSE = 36.5828</text>
<text transform="translate(408.5,25.44) scale(0.1,0.1)" font-family="Liberation Sans" font-weight="bold" font-size="52" fill="#111" stroke="#111" stroke-width="1.6" textLength="417.7" lengthAdjust="spacingAndGlyphs">rRMSE = 59.3149</text>
<text transform="translate(408.5,31.96) scale(0.1,0.1)" font-family="Liberation Sans" font-weight="bold" font-size="52" fill="#111" stroke="#111" stroke-width="1.6" textLength="328.15" lengthAdjust="spacingAndGlyphs">Bias = 2.9954</text>
<text transform="translate(408.5,38.48) scale(0.1,0.1)" font-family="Liberation Sans" font-weight="bold" font-size="52" fill="#111" stroke="#111" stroke-width="1.6" textLength="348.38" lengthAdjust="spacingAndGlyphs">rBias = 4.8567</text>
<text transform="translate(434,155.4) scale(0.102867,0.1)" font-family="Liberation Serif" font-weight="normal" font-size="118" fill="#1a1a1a" stroke="#1a1a1a" stroke-width="2" textLength="715.49" lengthAdjust="spacingAndGlyphs">(<tspan font-weight="bold">c</tspan>) CNN GF−3</text>
<text transform="translate(18.4,298.6) translate(-1.28,0) scale(0.1,0.1)" font-family="Liberation Sans" font-weight="normal" font-size="46" fill="#606060" textLength="25.58" lengthAdjust="spacingAndGlyphs">0</text>
<text transform="translate(16.7,293.95) translate(-2.56,0) scale(0.1,0.1)" font-family="Liberation Sans" font-weight="normal" font-size="46" fill="#606060" textLength="25.58" lengthAdjust="spacingAndGlyphs">0</text>
<text transform="translate(38.4,298.6) translate(-2.56,0) scale(0.1,0.1)" font-family="Liberation Sans" font-weight="normal" font-size="46" fill="#606060" textLength="51.17" lengthAdjust="spacingAndGlyphs">20</text>
<text transform="translate(16.7,278.26) translate(-5.12,0) scale(0.1,0.1)" font-family="Liberation Sans" font-weight="normal" font-size="46" fill="#606060" textLength="51.17" lengthAdjust="spacingAndGlyphs">20</text>
<text transform="translate(58.4,298.6) translate(-2.56,0) scale(0.1,0.1)" font-family="Liberation Sans" font-weight="normal" font-size="46" fill="#606060" textLength="51.17" lengthAdjust="spacingAndGlyphs">40</text>
<text transform="translate(16.7,262.58) translate(-5.12,0) scale(0.1,0.1)" font-family="Liberation Sans" font-weight="normal" font-size="46" fill="#606060" textLength="51.17" lengthAdjust="spacingAndGlyphs">40</text>
<text transform="translate(78.4,298.6) translate(-2.56,0) scale(0.1,0.1)" font-family="Liberation Sans" font-weight="normal" font-size="46" fill="#606060" textLength="51.17" lengthAdjust="spacingAndGlyphs">60</text>
<text transform="translate(16.7,246.89) translate(-5.12,0) scale(0.1,0.1)" font-family="Liberation Sans" font-weight="normal" font-size="46" fill="#606060" textLength="51.17" lengthAdjust="spacingAndGlyphs">60</text>
<text transform="translate(98.4,298.6) translate(-2.56,0) scale(0.1,0.1)" font-family="Liberation Sans" font-weight="normal" font-size="46" fill="#606060" textLength="51.17" lengthAdjust="spacingAndGlyphs">80</text>
<text transform="translate(16.7,231.21) translate(-5.12,0) scale(0.1,0.1)" font-family="Liberation Sans" font-weight="normal" font-size="46" fill="#606060" textLength="51.17" lengthAdjust="spacingAndGlyphs">80</text>
<text transform="translate(118.4,298.6) translate(-3.84,0) scale(0.1,0.1)" font-family="Liberation Sans" font-weight="normal" font-size="46" fill="#606060" textLength="76.75" lengthAdjust="spacingAndGlyphs">100</text>
<text transform="translate(16.7,215.52) translate(-7.67,0) scale(0.1,0.1)" font-family="Liberation Sans" font-weight="normal" font-size="46" fill="#606060" textLength="76.75" lengthAdjust="spacingAndGlyphs">100</text>
<text transform="translate(138.4,298.6) translate(-3.84,0) scale(0.1,0.1)" font-family="Liberation Sans" font-weight="normal" font-size="46" fill="#606060" textLength="76.75" lengthAdjust="spacingAndGlyphs">120</text>
<text transform="translate(16.7,199.84) translate(-7.67,0) scale(0.1,0.1)" font-family="Liberation Sans" font-weight="normal" font-size="46" fill="#606060" textLength="76.75" lengthAdjust="spacingAndGlyphs">120</text>
<text transform="translate(158.4,298.6) translate(-3.84,0) scale(0.1,0.1)" font-family="Liberation Sans" font-weight="normal" font-size="46" fill="#606060" textLength="76.75" lengthAdjust="spacingAndGlyphs">140</text>
<text transform="translate(16.7,184.15) translate(-7.67,0) scale(0.1,0.1)" font-family="Liberation Sans" font-weight="normal" font-size="46" fill="#606060" textLength="76.75" lengthAdjust="spacingAndGlyphs">140</text>
<text transform="translate(88.4,305.75) translate(-33.55,0) scale(0.1,0.1)" font-family="Liberation Sans" font-weight="bold" font-size="52.5" fill="#1a1a1a" stroke="#1a1a1a" stroke-width="1.2" textLength="670.99" lengthAdjust="spacingAndGlyphs">Observed biomass (Mg/ha)</text>
<text transform="translate(7.3,237.45) rotate(-90) translate(-33.4,0) scale(0.1,0.1)" font-family="Liberation Sans" font-weight="bold" font-size="52.5" fill="#1a1a1a" stroke="#1a1a1a" stroke-width="1.2" textLength="668.04" lengthAdjust="spacingAndGlyphs">Predicted biomass (Mg/ha)</text>
<text transform="translate(23.4,190.35) scale(0.1,0.1)" font-family="Liberation Sans" font-weight="bold" font-style="italic" font-size="52" fill="#111" stroke="#111" stroke-width="1.6" textLength="276.68" lengthAdjust="spacingAndGlyphs">R<tspan font-style="normal" font-size="37.44" dy="-25">2</tspan><tspan font-style="normal" dy="25"> = 0.4058</tspan></text>
<text transform="translate(23.4,196.87) scale(0.1,0.1)" font-family="Liberation Sans" font-weight="bold" font-size="52" fill="#111" stroke="#111" stroke-width="1.6" textLength="397.46" lengthAdjust="spacingAndGlyphs">RMSE = 32.9558</text>
<text transform="translate(23.4,203.39) scale(0.1,0.1)" font-family="Liberation Sans" font-weight="bold" font-size="52" fill="#111" stroke="#111" stroke-width="1.6" textLength="417.7" lengthAdjust="spacingAndGlyphs">rRMSE = 50.7599</text>
<text transform="translate(23.4,209.91) scale(0.1,0.1)" font-family="Liberation Sans" font-weight="bold" font-size="52" fill="#111" stroke="#111" stroke-width="1.6" textLength="345.46" lengthAdjust="spacingAndGlyphs">Bias = -9.0919</text>
<text transform="translate(23.4,216.43) scale(0.1,0.1)" font-family="Liberation Sans" font-weight="bold" font-size="52" fill="#111" stroke="#111" stroke-width="1.6" textLength="394.62" lengthAdjust="spacingAndGlyphs">rBias = -14.0037</text>
<text transform="translate(43.4,333.4) scale(0.101613,0.1)" font-family="Liberation Serif" font-weight="normal" font-size="118" fill="#1a1a1a" stroke="#1a1a1a" stroke-width="2" textLength="832.57" lengthAdjust="spacingAndGlyphs">(<tspan font-weight="bold">d</tspan>) RF Sentinel-1</text>
<text transform="translate(211.4,298.6) translate(-1.28,0) scale(0.1,0.1)" font-family="Liberation Sans" font-weight="normal" font-size="46" fill="#606060" textLength="25.58" lengthAdjust="spacingAndGlyphs">0</text>
<text transform="translate(209.7,293.95) translate(-2.56,0) scale(0.1,0.1)" font-family="Liberation Sans" font-weight="normal" font-size="46" fill="#606060" textLength="25.58" lengthAdjust="spacingAndGlyphs">0</text>
<text transform="translate(231.26,298.6) translate(-2.56,0) scale(0.1,0.1)" font-family="Liberation Sans" font-weight="normal" font-size="46" fill="#606060" textLength="51.17" lengthAdjust="spacingAndGlyphs">20</text>
<text transform="translate(209.7,278.26) translate(-5.12,0) scale(0.1,0.1)" font-family="Liberation Sans" font-weight="normal" font-size="46" fill="#606060" textLength="51.17" lengthAdjust="spacingAndGlyphs">20</text>
<text transform="translate(251.11,298.6) translate(-2.56,0) scale(0.1,0.1)" font-family="Liberation Sans" font-weight="normal" font-size="46" fill="#606060" textLength="51.17" lengthAdjust="spacingAndGlyphs">40</text>
<text transform="translate(209.7,262.58) translate(-5.12,0) scale(0.1,0.1)" font-family="Liberation Sans" font-weight="normal" font-size="46" fill="#606060" textLength="51.17" lengthAdjust="spacingAndGlyphs">40</text>
<text transform="translate(270.97,298.6) translate(-2.56,0) scale(0.1,0.1)" font-family="Liberation Sans" font-weight="normal" font-size="46" fill="#606060" textLength="51.17" lengthAdjust="spacingAndGlyphs">60</text>
<text transform="translate(209.7,246.89) translate(-5.12,0) scale(0.1,0.1)" font-family="Liberation Sans" font-weight="normal" font-size="46" fill="#606060" textLength="51.17" lengthAdjust="spacingAndGlyphs">60</text>
<text transform="translate(290.83,298.6) translate(-2.56,0) scale(0.1,0.1)" font-family="Liberation Sans" font-weight="normal" font-size="46" fill="#606060" textLength="51.17" lengthAdjust="spacingAndGlyphs">80</text>
<text transform="translate(209.7,231.21) translate(-5.12,0) scale(0.1,0.1)" font-family="Liberation Sans" font-weight="normal" font-size="46" fill="#606060" textLength="51.17" lengthAdjust="spacingAndGlyphs">80</text>
<text transform="translate(310.69,298.6) translate(-3.84,0) scale(0.1,0.1)" font-family="Liberation Sans" font-weight="normal" font-size="46" fill="#606060" textLength="76.75" lengthAdjust="spacingAndGlyphs">100</text>
<text transform="translate(209.7,215.52) translate(-7.67,0) scale(0.1,0.1)" font-family="Liberation Sans" font-weight="normal" font-size="46" fill="#606060" textLength="76.75" lengthAdjust="spacingAndGlyphs">100</text>
<text transform="translate(330.54,298.6) translate(-3.84,0) scale(0.1,0.1)" font-family="Liberation Sans" font-weight="normal" font-size="46" fill="#606060" textLength="76.75" lengthAdjust="spacingAndGlyphs">120</text>
<text transform="translate(209.7,199.84) translate(-7.67,0) scale(0.1,0.1)" font-family="Liberation Sans" font-weight="normal" font-size="46" fill="#606060" textLength="76.75" lengthAdjust="spacingAndGlyphs">120</text>
<text transform="translate(350.4,298.6) translate(-3.84,0) scale(0.1,0.1)" font-family="Liberation Sans" font-weight="normal" font-size="46" fill="#606060" textLength="76.75" lengthAdjust="spacingAndGlyphs">140</text>
<text transform="translate(209.7,184.15) translate(-7.67,0) scale(0.1,0.1)" font-family="Liberation Sans" font-weight="normal" font-size="46" fill="#606060" textLength="76.75" lengthAdjust="spacingAndGlyphs">140</text>
<text transform="translate(280.9,305.75) translate(-33.55,0) scale(0.1,0.1)" font-family="Liberation Sans" font-weight="bold" font-size="52.5" fill="#1a1a1a" stroke="#1a1a1a" stroke-width="1.2" textLength="670.99" lengthAdjust="spacingAndGlyphs">Observed biomass (Mg/ha)</text>
<text transform="translate(200.3,237.45) rotate(-90) translate(-33.4,0) scale(0.1,0.1)" font-family="Liberation Sans" font-weight="bold" font-size="52.5" fill="#1a1a1a" stroke="#1a1a1a" stroke-width="1.2" textLength="668.04" lengthAdjust="spacingAndGlyphs">Predicted biomass (Mg/ha)</text>
<text transform="translate(215.4,190.35) scale(0.1,0.1)" font-family="Liberation Sans" font-weight="bold" font-style="italic" font-size="52" fill="#111" stroke="#111" stroke-width="1.6" textLength="276.68" lengthAdjust="spacingAndGlyphs">R<tspan font-style="normal" font-size="37.44" dy="-25">2</tspan><tspan font-style="normal" dy="25"> = 0.4184</tspan></text>
<text transform="translate(215.4,196.87) scale(0.1,0.1)" font-family="Liberation Sans" font-weight="bold" font-size="52" fill="#111" stroke="#111" stroke-width="1.6" textLength="397.46" lengthAdjust="spacingAndGlyphs">RMSE = 32.7193</text>
<text transform="translate(215.4,203.39) scale(0.1,0.1)" font-family="Liberation Sans" font-weight="bold" font-size="52" fill="#111" stroke="#111" stroke-width="1.6" textLength="417.7" lengthAdjust="spacingAndGlyphs">rRMSE = 53.0506</text>
<text transform="translate(215.4,209.91) scale(0.1,0.1)" font-family="Liberation Sans" font-weight="bold" font-size="52" fill="#111" stroke="#111" stroke-width="1.6" textLength="328.15" lengthAdjust="spacingAndGlyphs">Bias = 6.4797</text>
<text transform="translate(215.4,216.43) scale(0.1,0.1)" font-family="Liberation Sans" font-weight="bold" font-size="52" fill="#111" stroke="#111" stroke-width="1.6" textLength="377.3" lengthAdjust="spacingAndGlyphs">rBias = 10.5062</text>
<text transform="translate(209.6,333.4) scale(0.103255,0.1)" font-family="Liberation Serif" font-weight="normal" font-size="118" fill="#1a1a1a" stroke="#1a1a1a" stroke-width="2" textLength="1332.63" lengthAdjust="spacingAndGlyphs">(<tspan font-weight="bold">e</tspan>) CNN−LSTM Sentinel−1</text>
<text transform="translate(403.7,298.6) translate(-1.28,0) scale(0.1,0.1)" font-family="Liberation Sans" font-weight="normal" font-size="46" fill="#606060" textLength="25.58" lengthAdjust="spacingAndGlyphs">0</text>
<text transform="translate(402,293.95) translate(-2.56,0) scale(0.1,0.1)" font-family="Liberation Sans" font-weight="normal" font-size="46" fill="#606060" textLength="25.58" lengthAdjust="spacingAndGlyphs">0</text>
<text transform="translate(423.61,298.6) translate(-2.56,0) scale(0.1,0.1)" font-family="Liberation Sans" font-weight="normal" font-size="46" fill="#606060" textLength="51.17" lengthAdjust="spacingAndGlyphs">20</text>
<text transform="translate(402,278.26) translate(-5.12,0) scale(0.1,0.1)" font-family="Liberation Sans" font-weight="normal" font-size="46" fill="#606060" textLength="51.17" lengthAdjust="spacingAndGlyphs">20</text>
<text transform="translate(443.53,298.6) translate(-2.56,0) scale(0.1,0.1)" font-family="Liberation Sans" font-weight="normal" font-size="46" fill="#606060" textLength="51.17" lengthAdjust="spacingAndGlyphs">40</text>
<text transform="translate(402,262.58) translate(-5.12,0) scale(0.1,0.1)" font-family="Liberation Sans" font-weight="normal" font-size="46" fill="#606060" textLength="51.17" lengthAdjust="spacingAndGlyphs">40</text>
<text transform="translate(463.44,298.6) translate(-2.56,0) scale(0.1,0.1)" font-family="Liberation Sans" font-weight="normal" font-size="46" fill="#606060" textLength="51.17" lengthAdjust="spacingAndGlyphs">60</text>
<text transform="translate(402,246.89) translate(-5.12,0) scale(0.1,0.1)" font-family="Liberation Sans" font-weight="normal" font-size="46" fill="#606060" textLength="51.17" lengthAdjust="spacingAndGlyphs">60</text>
<text transform="translate(483.36,298.6) translate(-2.56,0) scale(0.1,0.1)" font-family="Liberation Sans" font-weight="normal" font-size="46" fill="#606060" textLength="51.17" lengthAdjust="spacingAndGlyphs">80</text>
<text transform="translate(402,231.21) translate(-5.12,0) scale(0.1,0.1)" font-family="Liberation Sans" font-weight="normal" font-size="46" fill="#606060" textLength="51.17" lengthAdjust="spacingAndGlyphs">80</text>
<text transform="translate(503.27,298.6) translate(-3.84,0) scale(0.1,0.1)" font-family="Liberation Sans" font-weight="normal" font-size="46" fill="#606060" textLength="76.75" lengthAdjust="spacingAndGlyphs">100</text>
<text transform="translate(402,215.52) translate(-7.67,0) scale(0.1,0.1)" font-family="Liberation Sans" font-weight="normal" font-size="46" fill="#606060" textLength="76.75" lengthAdjust="spacingAndGlyphs">100</text>
<text transform="translate(523.19,298.6) translate(-3.84,0) scale(0.1,0.1)" font-family="Liberation Sans" font-weight="normal" font-size="46" fill="#606060" textLength="76.75" lengthAdjust="spacingAndGlyphs">120</text>
<text transform="translate(402,199.84) translate(-7.67,0) scale(0.1,0.1)" font-family="Liberation Sans" font-weight="normal" font-size="46" fill="#606060" textLength="76.75" lengthAdjust="spacingAndGlyphs">120</text>
<text transform="translate(543.1,298.6) translate(-3.84,0) scale(0.1,0.1)" font-family="Liberation Sans" font-weight="normal" font-size="46" fill="#606060" textLength="76.75" lengthAdjust="spacingAndGlyphs">140</text>
<text transform="translate(402,184.15) translate(-7.67,0) scale(0.1,0.1)" font-family="Liberation Sans" font-weight="normal" font-size="46" fill="#606060" textLength="76.75" lengthAdjust="spacingAndGlyphs">140</text>
<text transform="translate(473.4,305.75) translate(-33.55,0) scale(0.1,0.1)" font-family="Liberation Sans" font-weight="bold" font-size="52.5" fill="#1a1a1a" stroke="#1a1a1a" stroke-width="1.2" textLength="670.99" lengthAdjust="spacingAndGlyphs">Observed biomass (Mg/ha)</text>
<text transform="translate(392.6,237.45) rotate(-90) translate(-33.4,0) scale(0.1,0.1)" font-family="Liberation Sans" font-weight="bold" font-size="52.5" fill="#1a1a1a" stroke="#1a1a1a" stroke-width="1.2" textLength="668.04" lengthAdjust="spacingAndGlyphs">Predicted biomass (Mg/ha)</text>
<text transform="translate(408.5,190.35) scale(0.1,0.1)" font-family="Liberation Sans" font-weight="bold" font-style="italic" font-size="52" fill="#111" stroke="#111" stroke-width="1.6" textLength="276.68" lengthAdjust="spacingAndGlyphs">R<tspan font-style="normal" font-size="37.44" dy="-25">2</tspan><tspan font-style="normal" dy="25"> = 0.2933</tspan></text>
<text transform="translate(408.5,196.87) scale(0.1,0.1)" font-family="Liberation Sans" font-weight="bold" font-size="52" fill="#111" stroke="#111" stroke-width="1.6" textLength="397.46" lengthAdjust="spacingAndGlyphs">RMSE = 35.0048</text>
<text transform="translate(408.5,203.39) scale(0.1,0.1)" font-family="Liberation Sans" font-weight="bold" font-size="52" fill="#111" stroke="#111" stroke-width="1.6" textLength="417.7" lengthAdjust="spacingAndGlyphs">rRMSE = 56.7563</text>
<text transform="translate(408.5,209.91) scale(0.1,0.1)" font-family="Liberation Sans" font-weight="bold" font-size="52" fill="#111" stroke="#111" stroke-width="1.6" textLength="345.46" lengthAdjust="spacingAndGlyphs">Bias = -2.1447</text>
<text transform="translate(408.5,216.43) scale(0.1,0.1)" font-family="Liberation Sans" font-weight="bold" font-size="52" fill="#111" stroke="#111" stroke-width="1.6" textLength="365.7" lengthAdjust="spacingAndGlyphs">rBias = -3.4774</text>
<text transform="translate(421,333.4) scale(0.106576,0.1)" font-family="Liberation Serif" font-weight="normal" font-size="118" fill="#1a1a1a" stroke="#1a1a1a" stroke-width="2" textLength="938.3" lengthAdjust="spacingAndGlyphs">(<tspan font-weight="bold">f</tspan>) CNN Sentinel−1</text>
<text transform="translate(18.4,477) translate(-1.28,0) scale(0.1,0.1)" font-family="Liberation Sans" font-weight="normal" font-size="46" fill="#606060" textLength="25.58" lengthAdjust="spacingAndGlyphs">0</text>
<text transform="translate(16.7,472.35) translate(-2.56,0) scale(0.1,0.1)" font-family="Liberation Sans" font-weight="normal" font-size="46" fill="#606060" textLength="25.58" lengthAdjust="spacingAndGlyphs">0</text>
<text transform="translate(38.4,477) translate(-2.56,0) scale(0.1,0.1)" font-family="Liberation Sans" font-weight="normal" font-size="46" fill="#606060" textLength="51.17" lengthAdjust="spacingAndGlyphs">20</text>
<text transform="translate(16.7,456.66) translate(-5.12,0) scale(0.1,0.1)" font-family="Liberation Sans" font-weight="normal" font-size="46" fill="#606060" textLength="51.17" lengthAdjust="spacingAndGlyphs">20</text>
<text transform="translate(58.4,477) translate(-2.56,0) scale(0.1,0.1)" font-family="Liberation Sans" font-weight="normal" font-size="46" fill="#606060" textLength="51.17" lengthAdjust="spacingAndGlyphs">40</text>
<text transform="translate(16.7,440.98) translate(-5.12,0) scale(0.1,0.1)" font-family="Liberation Sans" font-weight="normal" font-size="46" fill="#606060" textLength="51.17" lengthAdjust="spacingAndGlyphs">40</text>
<text transform="translate(78.4,477) translate(-2.56,0) scale(0.1,0.1)" font-family="Liberation Sans" font-weight="normal" font-size="46" fill="#606060" textLength="51.17" lengthAdjust="spacingAndGlyphs">60</text>
<text transform="translate(16.7,425.29) translate(-5.12,0) scale(0.1,0.1)" font-family="Liberation Sans" font-weight="normal" font-size="46" fill="#606060" textLength="51.17" lengthAdjust="spacingAndGlyphs">60</text>
<text transform="translate(98.4,477) translate(-2.56,0) scale(0.1,0.1)" font-family="Liberation Sans" font-weight="normal" font-size="46" fill="#606060" textLength="51.17" lengthAdjust="spacingAndGlyphs">80</text>
<text transform="translate(16.7,409.61) translate(-5.12,0) scale(0.1,0.1)" font-family="Liberation Sans" font-weight="normal" font-size="46" fill="#606060" textLength="51.17" lengthAdjust="spacingAndGlyphs">80</text>
<text transform="translate(118.4,477) translate(-3.84,0) scale(0.1,0.1)" font-family="Liberation Sans" font-weight="normal" font-size="46" fill="#606060" textLength="76.75" lengthAdjust="spacingAndGlyphs">100</text>
<text transform="translate(16.7,393.92) translate(-7.67,0) scale(0.1,0.1)" font-family="Liberation Sans" font-weight="normal" font-size="46" fill="#606060" textLength="76.75" lengthAdjust="spacingAndGlyphs">100</text>
<text transform="translate(138.4,477) translate(-3.84,0) scale(0.1,0.1)" font-family="Liberation Sans" font-weight="normal" font-size="46" fill="#606060" textLength="76.75" lengthAdjust="spacingAndGlyphs">120</text>
<text transform="translate(16.7,378.24) translate(-7.67,0) scale(0.1,0.1)" font-family="Liberation Sans" font-weight="normal" font-size="46" fill="#606060" textLength="76.75" lengthAdjust="spacingAndGlyphs">120</text>
<text transform="translate(158.4,477) translate(-3.84,0) scale(0.1,0.1)" font-family="Liberation Sans" font-weight="normal" font-size="46" fill="#606060" textLength="76.75" lengthAdjust="spacingAndGlyphs">140</text>
<text transform="translate(88.4,484.15) translate(-33.55,0) scale(0.1,0.1)" font-family="Liberation Sans" font-weight="bold" font-size="52.5" fill="#1a1a1a" stroke="#1a1a1a" stroke-width="1.2" textLength="670.99" lengthAdjust="spacingAndGlyphs">Observed biomass (Mg/ha)</text>
<text transform="translate(7.3,415.85) rotate(-90) translate(-33.4,0) scale(0.1,0.1)" font-family="Liberation Sans" font-weight="bold" font-size="52.5" fill="#1a1a1a" stroke="#1a1a1a" stroke-width="1.2" textLength="668.04" lengthAdjust="spacingAndGlyphs">Predicted biomass (Mg/ha)</text>
<text transform="translate(23.4,370.95) scale(0.1,0.1)" font-family="Liberation Sans" font-weight="bold" font-style="italic" font-size="52" fill="#111" stroke="#111" stroke-width="1.6" textLength="276.68" lengthAdjust="spacingAndGlyphs">R<tspan font-style="normal" font-size="37.44" dy="-25">2</tspan><tspan font-style="normal" dy="25"> = 0.3025</tspan></text>
<text transform="translate(23.4,377.47) scale(0.1,0.1)" font-family="Liberation Sans" font-weight="bold" font-size="52" fill="#111" stroke="#111" stroke-width="1.6" textLength="397.46" lengthAdjust="spacingAndGlyphs">RMSE = 34.5347</text>
<text transform="translate(23.4,383.99) scale(0.1,0.1)" font-family="Liberation Sans" font-weight="bold" font-size="52" fill="#111" stroke="#111" stroke-width="1.6" textLength="417.7" lengthAdjust="spacingAndGlyphs">rRMSE = 55.4265</text>
<text transform="translate(23.4,390.51) scale(0.1,0.1)" font-family="Liberation Sans" font-weight="bold" font-size="52" fill="#111" stroke="#111" stroke-width="1.6" textLength="345.46" lengthAdjust="spacingAndGlyphs">Bias = -2.8597</text>
<text transform="translate(23.4,397.03) scale(0.1,0.1)" font-family="Liberation Sans" font-weight="bold" font-size="52" fill="#111" stroke="#111" stroke-width="1.6" textLength="365.7" lengthAdjust="spacingAndGlyphs">rBias = -4.2352</text>
<text transform="translate(47,511.6) scale(0.100438,0.1)" font-family="Liberation Serif" font-weight="normal" font-size="118" fill="#1a1a1a" stroke="#1a1a1a" stroke-width="2" textLength="774.61" lengthAdjust="spacingAndGlyphs">(<tspan font-weight="bold">g</tspan>) RF ALOS−2</text>
<text transform="translate(211.4,477) translate(-1.28,0) scale(0.1,0.1)" font-family="Liberation Sans" font-weight="normal" font-size="46" fill="#606060" textLength="25.58" lengthAdjust="spacingAndGlyphs">0</text>
<text transform="translate(209.7,472.35) translate(-2.56,0) scale(0.1,0.1)" font-family="Liberation Sans" font-weight="normal" font-size="46" fill="#606060" textLength="25.58" lengthAdjust="spacingAndGlyphs">0</text>
<text transform="translate(231.26,477) translate(-2.56,0) scale(0.1,0.1)" font-family="Liberation Sans" font-weight="normal" font-size="46" fill="#606060" textLength="51.17" lengthAdjust="spacingAndGlyphs">20</text>
<text transform="translate(209.7,456.66) translate(-5.12,0) scale(0.1,0.1)" font-family="Liberation Sans" font-weight="normal" font-size="46" fill="#606060" textLength="51.17" lengthAdjust="spacingAndGlyphs">20</text>
<text transform="translate(251.11,477) translate(-2.56,0) scale(0.1,0.1)" font-family="Liberation Sans" font-weight="normal" font-size="46" fill="#606060" textLength="51.17" lengthAdjust="spacingAndGlyphs">40</text>
<text transform="translate(209.7,440.98) translate(-5.12,0) scale(0.1,0.1)" font-family="Liberation Sans" font-weight="normal" font-size="46" fill="#606060" textLength="51.17" lengthAdjust="spacingAndGlyphs">40</text>
<text transform="translate(270.97,477) translate(-2.56,0) scale(0.1,0.1)" font-family="Liberation Sans" font-weight="normal" font-size="46" fill="#606060" textLength="51.17" lengthAdjust="spacingAndGlyphs">60</text>
<text transform="translate(209.7,425.29) translate(-5.12,0) scale(0.1,0.1)" font-family="Liberation Sans" font-weight="normal" font-size="46" fill="#606060" textLength="51.17" lengthAdjust="spacingAndGlyphs">60</text>
<text transform="translate(290.83,477) translate(-2.56,0) scale(0.1,0.1)" font-family="Liberation Sans" font-weight="normal" font-size="46" fill="#606060" textLength="51.17" lengthAdjust="spacingAndGlyphs">80</text>
<text transform="translate(209.7,409.61) translate(-5.12,0) scale(0.1,0.1)" font-family="Liberation Sans" font-weight="normal" font-size="46" fill="#606060" textLength="51.17" lengthAdjust="spacingAndGlyphs">80</text>
<text transform="translate(310.69,477) translate(-3.84,0) scale(0.1,0.1)" font-family="Liberation Sans" font-weight="normal" font-size="46" fill="#606060" textLength="76.75" lengthAdjust="spacingAndGlyphs">100</text>
<text transform="translate(209.7,393.92) translate(-7.67,0) scale(0.1,0.1)" font-family="Liberation Sans" font-weight="normal" font-size="46" fill="#606060" textLength="76.75" lengthAdjust="spacingAndGlyphs">100</text>
<text transform="translate(330.54,477) translate(-3.84,0) scale(0.1,0.1)" font-family="Liberation Sans" font-weight="normal" font-size="46" fill="#606060" textLength="76.75" lengthAdjust="spacingAndGlyphs">120</text>
<text transform="translate(209.7,378.24) translate(-7.67,0) scale(0.1,0.1)" font-family="Liberation Sans" font-weight="normal" font-size="46" fill="#606060" textLength="76.75" lengthAdjust="spacingAndGlyphs">120</text>
<text transform="translate(350.4,477) translate(-3.84,0) scale(0.1,0.1)" font-family="Liberation Sans" font-weight="normal" font-size="46" fill="#606060" textLength="76.75" lengthAdjust="spacingAndGlyphs">140</text>
<text transform="translate(209.7,362.55) translate(-7.67,0) scale(0.1,0.1)" font-family="Liberation Sans" font-weight="normal" font-size="46" fill="#606060" textLength="76.75" lengthAdjust="spacingAndGlyphs">140</text>
<text transform="translate(280.9,484.15) translate(-33.55,0) scale(0.1,0.1)" font-family="Liberation Sans" font-weight="bold" font-size="52.5" fill="#1a1a1a" stroke="#1a1a1a" stroke-width="1.2" textLength="670.99" lengthAdjust="spacingAndGlyphs">Observed biomass (Mg/ha)</text>
<text transform="translate(200.3,415.85) rotate(-90) translate(-33.4,0) scale(0.1,0.1)" font-family="Liberation Sans" font-weight="bold" font-size="52.5" fill="#1a1a1a" stroke="#1a1a1a" stroke-width="1.2" textLength="668.04" lengthAdjust="spacingAndGlyphs">Predicted biomass (Mg/ha)</text>
<text transform="translate(215.4,368.75) scale(0.1,0.1)" font-family="Liberation Sans" font-weight="bold" font-style="italic" font-size="52" fill="#111" stroke="#111" stroke-width="1.6" textLength="276.68" lengthAdjust="spacingAndGlyphs">R<tspan font-style="normal" font-size="37.44" dy="-25">2</tspan><tspan font-style="normal" dy="25"> = 0.4285</tspan></text>
<text transform="translate(215.4,375.27) scale(0.1,0.1)" font-family="Liberation Sans" font-weight="bold" font-size="52" fill="#111" stroke="#111" stroke-width="1.6" textLength="397.46" lengthAdjust="spacingAndGlyphs">RMSE = 31.7333</text>
<text transform="translate(215.4,381.79) scale(0.1,0.1)" font-family="Liberation Sans" font-weight="bold" font-size="52" fill="#111" stroke="#111" stroke-width="1.6" textLength="417.7" lengthAdjust="spacingAndGlyphs">rRMSE = 51.4519</text>
<text transform="translate(215.4,388.31) scale(0.1,0.1)" font-family="Liberation Sans" font-weight="bold" font-size="52" fill="#111" stroke="#111" stroke-width="1.6" textLength="328.15" lengthAdjust="spacingAndGlyphs">Bias = 2.8823</text>
<text transform="translate(215.4,394.83) scale(0.1,0.1)" font-family="Liberation Sans" font-weight="bold" font-size="52" fill="#111" stroke="#111" stroke-width="1.6" textLength="348.38" lengthAdjust="spacingAndGlyphs">rBias = 4.6733</text>
<text transform="translate(214,511.6) scale(0.102108,0.1)" font-family="Liberation Serif" font-weight="normal" font-size="118" fill="#1a1a1a" stroke="#1a1a1a" stroke-width="2" textLength="1267.29" lengthAdjust="spacingAndGlyphs">(<tspan font-weight="bold">h</tspan>) CNN−LSTM ALOS−2</text>
<text transform="translate(403.7,477) translate(-1.28,0) scale(0.1,0.1)" font-family="Liberation Sans" font-weight="normal" font-size="46" fill="#606060" textLength="25.58" lengthAdjust="spacingAndGlyphs">0</text>
<text transform="translate(402,472.35) translate(-2.56,0) scale(0.1,0.1)" font-family="Liberation Sans" font-weight="normal" font-size="46" fill="#606060" textLength="25.58" lengthAdjust="spacingAndGlyphs">0</text>
<text transform="translate(423.61,477) translate(-2.56,0) scale(0.1,0.1)" font-family="Liberation Sans" font-weight="normal" font-size="46" fill="#606060" textLength="51.17" lengthAdjust="spacingAndGlyphs">20</text>
<text transform="translate(402,456.66) translate(-5.12,0) scale(0.1,0.1)" font-family="Liberation Sans" font-weight="normal" font-size="46" fill="#606060" textLength="51.17" lengthAdjust="spacingAndGlyphs">20</text>
<text transform="translate(443.53,477) translate(-2.56,0) scale(0.1,0.1)" font-family="Liberation Sans" font-weight="normal" font-size="46" fill="#606060" textLength="51.17" lengthAdjust="spacingAndGlyphs">40</text>
<text transform="translate(402,440.98) translate(-5.12,0) scale(0.1,0.1)" font-family="Liberation Sans" font-weight="normal" font-size="46" fill="#606060" textLength="51.17" lengthAdjust="spacingAndGlyphs">40</text>
<text transform="translate(463.44,477) translate(-2.56,0) scale(0.1,0.1)" font-family="Liberation Sans" font-weight="normal" font-size="46" fill="#606060" textLength="51.17" lengthAdjust="spacingAndGlyphs">60</text>
<text transform="translate(402,425.29) translate(-5.12,0) scale(0.1,0.1)" font-family="Liberation Sans" font-weight="normal" font-size="46" fill="#606060" textLength="51.17" lengthAdjust="spacingAndGlyphs">60</text>
<text transform="translate(483.36,477) translate(-2.56,0) scale(0.1,0.1)" font-family="Liberation Sans" font-weight="normal" font-size="46" fill="#606060" textLength="51.17" lengthAdjust="spacingAndGlyphs">80</text>
<text transform="translate(402,409.61) translate(-5.12,0) scale(0.1,0.1)" font-family="Liberation Sans" font-weight="normal" font-size="46" fill="#606060" textLength="51.17" lengthAdjust="spacingAndGlyphs">80</text>
<text transform="translate(503.27,477) translate(-3.84,0) scale(0.1,0.1)" font-family="Liberation Sans" font-weight="normal" font-size="46" fill="#606060" textLength="76.75" lengthAdjust="spacingAndGlyphs">100</text>
<text transform="translate(402,393.92) translate(-7.67,0) scale(0.1,0.1)" font-family="Liberation Sans" font-weight="normal" font-size="46" fill="#606060" textLength="76.75" lengthAdjust="spacingAndGlyphs">100</text>
<text transform="translate(523.19,477) translate(-3.84,0) scale(0.1,0.1)" font-family="Liberation Sans" font-weight="normal" font-size="46" fill="#606060" textLength="76.75" lengthAdjust="spacingAndGlyphs">120</text>
<text transform="translate(402,378.24) translate(-7.67,0) scale(0.1,0.1)" font-family="Liberation Sans" font-weight="normal" font-size="46" fill="#606060" textLength="76.75" lengthAdjust="spacingAndGlyphs">120</text>
<text transform="translate(543.1,477) translate(-3.84,0) scale(0.1,0.1)" font-family="Liberation Sans" font-weight="normal" font-size="46" fill="#606060" textLength="76.75" lengthAdjust="spacingAndGlyphs">140</text>
<text transform="translate(402,362.55) translate(-7.67,0) scale(0.1,0.1)" font-family="Liberation Sans" font-weight="normal" font-size="46" fill="#606060" textLength="76.75" lengthAdjust="spacingAndGlyphs">140</text>
<text transform="translate(473.4,484.15) translate(-33.55,0) scale(0.1,0.1)" font-family="Liberation Sans" font-weight="bold" font-size="52.5" fill="#1a1a1a" stroke="#1a1a1a" stroke-width="1.2" textLength="670.99" lengthAdjust="spacingAndGlyphs">Observed biomass (Mg/ha)</text>
<text transform="translate(392.6,415.85) rotate(-90) translate(-33.4,0) scale(0.1,0.1)" font-family="Liberation Sans" font-weight="bold" font-size="52.5" fill="#1a1a1a" stroke="#1a1a1a" stroke-width="1.2" textLength="668.04" lengthAdjust="spacingAndGlyphs">Predicted biomass (Mg/ha)</text>
<text transform="translate(408.5,368.75) scale(0.1,0.1)" font-family="Liberation Sans" font-weight="bold" font-style="italic" font-size="52" fill="#111" stroke="#111" stroke-width="1.6" textLength="276.68" lengthAdjust="spacingAndGlyphs">R<tspan font-style="normal" font-size="37.44" dy="-25">2</tspan><tspan font-style="normal" dy="25"> = 0.4124</tspan></text>
<text transform="translate(408.5,375.27) scale(0.1,0.1)" font-family="Liberation Sans" font-weight="bold" font-size="52" fill="#111" stroke="#111" stroke-width="1.6" textLength="397.46" lengthAdjust="spacingAndGlyphs">RMSE = 31.8198</text>
<text transform="translate(408.5,381.79) scale(0.1,0.1)" font-family="Liberation Sans" font-weight="bold" font-size="52" fill="#111" stroke="#111" stroke-width="1.6" textLength="417.7" lengthAdjust="spacingAndGlyphs">rRMSE = 51.5921</text>
<text transform="translate(408.5,388.31) scale(0.1,0.1)" font-family="Liberation Sans" font-weight="bold" font-size="52" fill="#111" stroke="#111" stroke-width="1.6" textLength="328.15" lengthAdjust="spacingAndGlyphs">Bias = 1.5072</text>
<text transform="translate(408.5,394.83) scale(0.1,0.1)" font-family="Liberation Sans" font-weight="bold" font-size="52" fill="#111" stroke="#111" stroke-width="1.6" textLength="348.38" lengthAdjust="spacingAndGlyphs">rBias = 2.4438</text>
<text transform="translate(426.7,511.6) scale(0.10279,0.1)" font-family="Liberation Serif" font-weight="normal" font-size="118" fill="#1a1a1a" stroke="#1a1a1a" stroke-width="2" textLength="853.2" lengthAdjust="spacingAndGlyphs">(<tspan font-weight="bold">i</tspan>) CNN ALOS−2</text></g>
</svg>
</body></html>
